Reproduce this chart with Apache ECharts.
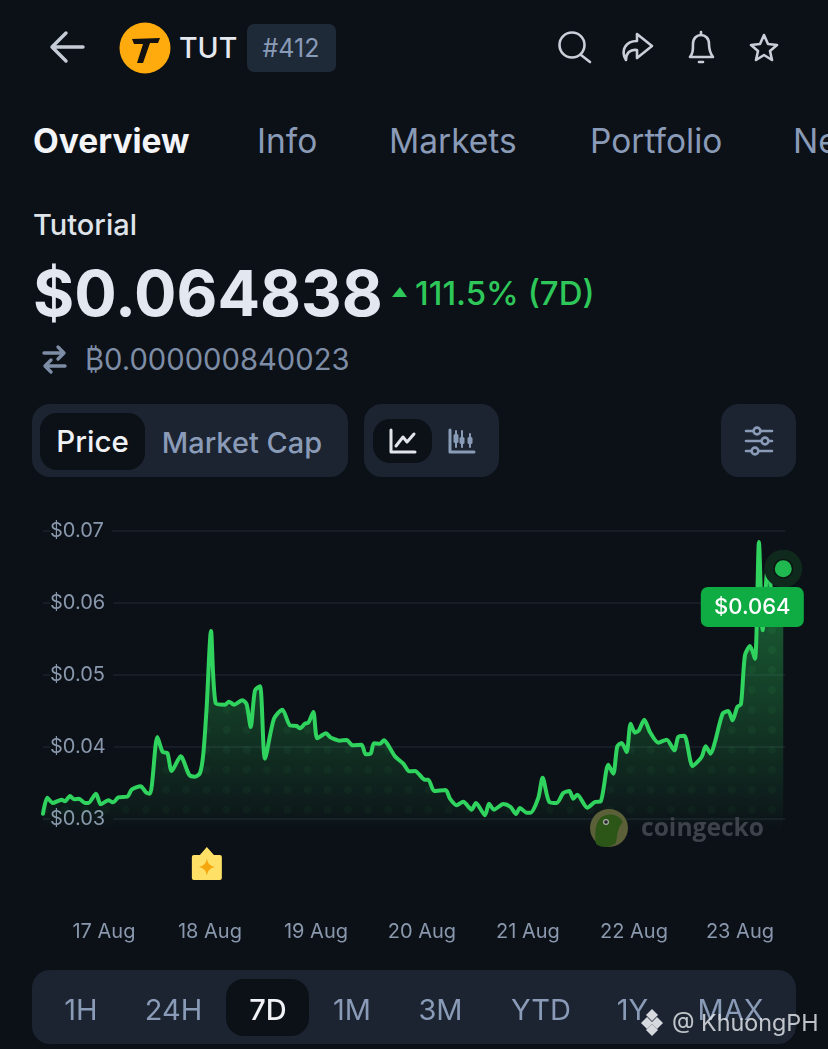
<!DOCTYPE html>
<html><head><meta charset="utf-8">
<script src="https://cdn.jsdelivr.net/npm/echarts@6/dist/echarts.min.js"></script>
<style>
html,body{margin:0;padding:0;background:#0c1017;width:828px;height:1049px;overflow:hidden;font-family:Inter,"Noto Sans",sans-serif}
#stage{position:absolute;left:0;top:0;width:828px;height:1049px;overflow:hidden}
.t{position:absolute;white-space:nowrap;line-height:1;transform:translateY(-50%)}
.c{transform:translate(-50%,-50%)}
.b{position:absolute}
svg{position:absolute;overflow:visible}
#chart{position:absolute;left:0;top:0;width:828px;height:1049px}
.mute{color:#8a9bb8}
</style></head><body><div id="stage">
<svg style="left:0;top:0" width="828" height="1049" fill="none" stroke-linecap="round" stroke-linejoin="round">
 <g stroke="#c6ccd6" stroke-width="3.4"><path d="M83 47H53M66 33L52 47L66 61"/></g>
 <circle cx="145" cy="48" r="25.5" fill="#ffab0d" stroke="none"/>
 <path d="M132 39L160 38L158 43L150 43L143 63L137 63L143 44L134 44Z" fill="#111" stroke="none"/>
 <g stroke="#c9ced8" stroke-width="2.6">
  <circle cx="572" cy="45" r="12.5"/><path d="M581 55L590 62"/>
  <path d="M637 41V34L652 46L637 58V50C630 49 626 53 626 60C620 50 626 41 637 41Z"/>
  <path d="M690 57C693 53 693 50 693 44C693 38 697 35 701 35C705 35 709 38 709 44C709 50 710 53 713 57Z"/><path d="M701 35V32"/><path d="M699 62H703"/>
  <path d="M764 35L768 44L777 45L770 51L772 60L764 55L756 60L758 51L751 45L760 44Z"/>
 </g>
 <path d="M392 297L400 287L407 297Z" fill="#2ec85a" stroke="none"/>
 <g stroke="#7e8da6" stroke-width="3.4"><path d="M44 353H64M58 347L64 353L58 359"/><path d="M65 366H45M51 360L45 366L51 372"/></g>
</svg>
<div class="t" style="left:179px;top:48px;font-size:28.5px;font-weight:500;color:#e4e8ef">TUT</div>
<div class="b" style="left:247px;top:24px;width:89px;height:48px;border-radius:7px;background:#1e2a38"></div>
<div class="t c mute" style="left:291px;top:48px;font-size:25px">#412</div>
<div class="t" style="left:33px;top:142px;font-size:33.5px;font-weight:700;color:#f2f4f8">Overview</div>
<div class="t mute" style="left:257px;top:142px;font-size:33.5px">Info</div>
<div class="t mute" style="left:389px;top:142px;font-size:33.5px">Markets</div>
<div class="t mute" style="left:590px;top:142px;font-size:33.5px">Portfolio</div>
<div class="t mute" style="left:793px;top:142px;font-size:33.5px">News</div>
<div class="t" style="left:33px;top:224px;font-size:29px;font-weight:500;color:#dfe3ea">Tutorial</div>
<div class="t" style="left:33px;top:293px;font-size:63px;font-weight:700;color:#e3e8f0">$0.064838</div>
<div class="t" style="left:415px;top:293px;font-size:33px;font-weight:500;color:#2ec85a">111.5% (7D)</div>
<div class="t" style="left:85px;top:360px;font-size:29.2px;color:#7e8da6">₿0.000000840023</div>
<div class="b" style="left:32px;top:404px;width:316px;height:73px;border-radius:18px;background:#1b2430"></div>
<div class="b" style="left:40px;top:413px;width:105px;height:57px;border-radius:17px;background:#0c1017"></div>
<div class="t c" style="left:92.5px;top:442px;font-size:29.5px;font-weight:500;color:#f0f2f6">Price</div>
<div class="t c mute" style="left:242px;top:442px;font-size:29px;font-weight:500">Market Cap</div>
<div class="b" style="left:364px;top:404px;width:135px;height:73px;border-radius:18px;background:#1b2430"></div>
<div class="b" style="left:373px;top:419px;width:59px;height:44px;border-radius:17px;background:#0c1017"></div>
<div class="b" style="left:721px;top:404px;width:75px;height:73px;border-radius:18px;background:#1b2430"></div>
<svg style="left:0;top:0" width="828" height="1049" fill="none" stroke-linecap="round" stroke-linejoin="round">
 <g stroke="#e2e5ea" stroke-width="3"><path d="M391 430V452H415"/><path d="M396 446L403 437L407 442L414 434"/></g>
 <g stroke="#8a9bb8" stroke-width="3"><path d="M450 430V452H474"/><path d="M456 431V447M462 431V447M470 434V447" stroke-width="2"/></g>
 <g fill="#8a9bb8" stroke="none"><rect x="453.5" y="434" width="5" height="9" rx="1.5"/><rect x="459.5" y="437" width="5" height="7" rx="1.5"/><rect x="467.5" y="437" width="5" height="7" rx="1.5"/></g>
 <g stroke="#8a9bb8" stroke-width="2.6"><path d="M746 431H772M746 441H772M746 451H772"/><circle cx="757" cy="431" r="3.4" fill="#1b2430"/><circle cx="765" cy="441" r="3.4" fill="#1b2430"/><circle cx="755" cy="451" r="3.4" fill="#1b2430"/></g>
</svg>
<div id="chart"></div>
<svg style="left:0;top:0" width="828" height="1049">
 <circle cx="609" cy="828" r="19" fill="#5b6038"/>
 <path d="M596 844C594 830 596 818 606 815C614 813 620 817 623 822C618 826 617 836 616 843C610 848 601 848 596 844Z" fill="#2c5518"/>
 <circle cx="606" cy="822" r="3" fill="#aab0a0"/><circle cx="606" cy="822" r="1.8" fill="#223"/>
</svg>
<div class="t" style="left:641px;top:827px;font-size:24.6px;font-weight:700;color:#3d424b;font-family:'Open Sans',Inter,sans-serif">coingecko</div>
<div class="b" style="left:32px;top:970px;width:764px;height:74px;border-radius:18px;background:#1b2430"></div>
<div class="b" style="left:226px;top:979px;width:83px;height:57px;border-radius:18px;background:#0c1017"></div>
<div id="ranges"></div>
<svg style="left:0;top:0" width="828" height="1049">
 <g fill="#d5d8dd"><path d="M652 1009L658 1015L652 1021L646 1015Z"/><path d="M652 1024L658 1030L652 1036L646 1030Z"/><path d="M647 1017L653 1023L647 1029L641 1023Z"/><path d="M657 1017L663 1023L657 1029L651 1023Z"/></g>
</svg>
<div class="t" style="left:672px;top:1023px;font-size:23.3px;color:#dfe2e7;opacity:.85">@ KhuongPH</div>
</div>
<script>
const hours=[0,0.98,2.19,4.23,4.98,6.11,7.09,8.15,9.51,10.26,12,13.06,14.79,15.92,17.06,19.09,20.08,22.11,23.32,24.23,25.89,27.09,28.15,29.13,31.17,33.13,34.41,35.55,36.3,37.06,38.04,39.09,41.21,42.11,43.25,45.13,46.11,47.02,48,49.13,50.26,52.3,54.19,55.92,57.43,58.19,59.32,60.08,61.21,62.11,64.07,64.98,65.35,67.09,68.75,70.1,72.14,73.05,74.18,74.93,76.29,77.2,78.18,79.69,81.58,82.94,84.22,86.48,87.24,88.59,91.16,92.14,93.65,95.16,97.05,98.03,100.07,100.97,102.1,104.22,105.88,107.09,107.99,109.5,110.41,112.14,113.12,114.63,116.29,117.8,119.16,120.07,120.97,123.24,124.97,126.26,127.99,129.12,130.03,131.01,132.14,133.05,134.03,134.93,136.14,137.42,139.31,141.2,142.94,143.84,145.2,147.09,149.12,150.03,151.16,152.14,153.88,155.16,156.14,157.2,158.03,158.93,160.07,161.2,162.1,162.93,164.14,165.12,166.25,167,167.61];
const prices=[.03074,.03296,.03222,.03269,.03245,.03319,.03273,.03282,.03222,.03222,.03352,.03204,.03259,.03231,.03301,.0331,.03407,.03454,.0337,.03352,.04139,.03931,.03917,.03667,.0387,.03611,.03588,.03639,.03907,.04556,.05611,.04611,.04588,.0463,.04588,.04648,.04593,.04278,.04787,.04843,.03838,.04394,.04519,.04301,.04292,.04259,.04324,.04338,.04486,.0412,.0419,.04139,.04125,.04088,.04097,.04023,.04032,.03898,.03907,.04051,.04046,.04093,.04023,.0387,.03769,.03662,.03667,.03546,.03546,.03389,.03403,.03282,.0319,.03241,.0313,.03222,.03051,.03213,.0313,.03208,.03167,.03069,.03153,.03088,.03088,.03292,.03574,.03236,.03222,.03361,.03389,.03282,.03338,.03157,.03236,.03245,.03755,.0363,.04009,.04056,.03931,.04324,.04199,.04231,.0438,.04208,.0406,.04102,.03954,.04139,.04157,.03736,.03861,.04009,.03907,.04069,.04463,.045,.0437,.04556,.04593,.05273,.05403,.05227,.06847,.0562,.06509,.06106,.06037,.05944,.06477];
const dayTickHours=[13.8,37.8,61.8,85.8,109.8,133.8,157.8];
const dayLabels=['17 Aug','18 Aug','19 Aug','20 Aug','21 Aug','22 Aug','23 Aug'];
const rangeLabels=['1H','24H','7D','1M','3M','YTD','1Y','MAX'];
const rangeCenters=[81,173.5,268,352,440.5,541,632.5,730.5];
const currentLabel='$0.064';

document.getElementById('ranges').innerHTML=rangeLabels.map((r,i)=>
 `<div class="t c" style="left:${rangeCenters[i]}px;top:1008.5px;font-size:29px;font-weight:${i==2?500:400};color:${i==2?'#f0f2f6':'#8a9bb8'}">${r}</div>`).join('');

// dotted texture for the area
const tile=document.createElement('canvas');tile.width=101;tile.height=1049;
const g=tile.getContext('2d');
for(let y=630;y<=810;y+=20){const a=0.04+0.03*(810-y)/180;
 for(let i=0;i<5;i++){g.beginPath();g.arc(4.5+i*20.2,y,4,0,7);g.fillStyle=`rgba(70,220,110,${a})`;g.fill();}}

const data=hours.map((h,i)=>[h,prices[i]]);
const last=data[data.length-1];
const chart=echarts.init(document.getElementById('chart'),null,{renderer:'canvas'});
const label={color:'#8a98ae',fontFamily:'Inter',fontSize:20};
chart.setOption({
 animation:false,backgroundColor:'transparent',
 grid:{left:43,right:43,top:459,bottom:158},
 xAxis:{type:'value',min:0,max:168,splitLine:{show:false},axisLine:{show:false},axisTick:{show:false},
  axisLabel:{...label,margin:31,customValues:dayTickHours,formatter:v=>dayLabels[dayTickHours.indexOf(v)]}},
 yAxis:{type:'value',min:.02,max:.08,interval:.01,axisLine:{show:false},axisTick:{show:false},
  splitLine:{show:true,showMinLine:false,showMaxLine:false,lineStyle:{color:'#1a222c',width:1.5}},
  axisLabel:{...label,inside:true,margin:7,showMinLabel:false,showMaxLabel:false,backgroundColor:'#0c1017',padding:[2,8,1,0],
   formatter:v=>'$'+v.toFixed(2)}},
 series:[
  {type:'line',data,symbol:'none',smooth:.25,silent:true,z:2,lineStyle:{width:0},
   areaStyle:{opacity:1,origin:'start',color:{type:'linear',x:0,y:0,x2:0,y2:1,colorStops:[
    {offset:0,color:'rgba(47,211,93,.45)'},{offset:.226,color:'rgba(47,211,93,.36)'},
    {offset:.59,color:'rgba(47,211,93,.16)'},{offset:.74,color:'rgba(47,211,93,.07)'},
    {offset:.84,color:'rgba(47,211,93,0)'},{offset:1,color:'rgba(47,211,93,0)'}]}}},
  {type:'line',data,symbol:'none',smooth:.25,silent:true,z:3,lineStyle:{width:0},
   areaStyle:{opacity:1,origin:'start',color:{image:tile,repeat:'repeat'}}},
  {type:'line',data,symbol:'none',smooth:.25,silent:true,z:4,
   lineStyle:{width:4,color:'#2fd35d',cap:'round',join:'round'},
   markPoint:{silent:true,animation:false,data:[
    {coord:last,symbol:'circle',symbolSize:38,itemStyle:{color:'#10291d'},label:{show:false}},
    {coord:last,symbol:'circle',symbolSize:20,itemStyle:{color:'#0b1512'},label:{show:false}},
    {coord:last,symbol:'circle',symbolSize:17,itemStyle:{color:'#20b850'},label:{show:false}},
    {coord:[160.6,.05944],symbol:'rect',symbolSize:1,itemStyle:{color:'transparent'},
     label:{show:true,position:'inside',formatter:currentLabel,color:'#fff',fontFamily:'Inter',fontWeight:500,fontSize:22,
      backgroundColor:'#0fab43',borderRadius:7,width:103,height:40,lineHeight:40,align:'center',verticalAlign:'middle'}},
    {coord:[37.1,.02382],symbol:'path://M15 0L22 8L28 8Q30 8 30 10L30 31Q30 33 28 33L2 33Q0 33 0 31L0 10Q0 8 2 8L8 8Z',symbolSize:[30,33],itemStyle:{color:'#ffe066'},label:{show:false}},
    {coord:[37.1,.02333],symbol:'path://M8 0Q9 7 16 8Q9 9 8 16Q7 9 0 8Q7 7 8 0Z',symbolSize:[16,17],itemStyle:{color:'#f5a70f'},label:{show:false}}
   ]}}
 ]
});
</script></body></html>
